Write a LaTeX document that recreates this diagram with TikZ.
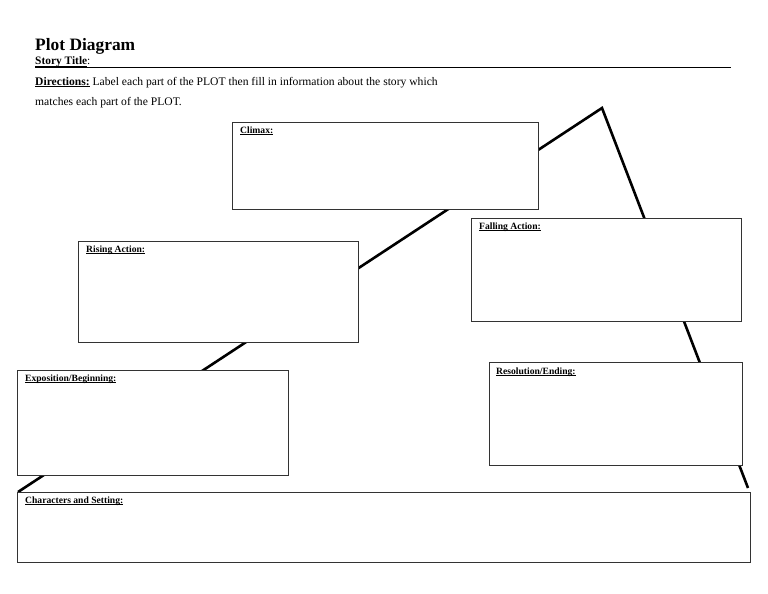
\documentclass[tikz,border=0pt]{standalone}
\usepackage{fontspec}
\setmainfont{Liberation Serif}
\usetikzlibrary{calc}
\newcommand\myul[1]{\setbox0\hbox{#1}\rlap{\rule[-1.4pt]{\wd0}{0.6pt}}\box0}
\tikzset{
  box/.style={draw=black!80, line width=0.9pt, fill=white, anchor=north west, inner sep=0pt},
  lbl/.style={anchor=base west, inner sep=0pt, font=\fontsize{9.6}{10}\selectfont\bfseries},
  plotline/.style={line width=2.6pt, black},
  head/.style={anchor=base west, inner sep=0pt}
}
\begin{document}
\begin{tikzpicture}[x=1pt,y=-1pt]
\useasboundingbox[fill=white] (0,0) rectangle (768,594);
% header
\node[head, font=\fontsize{17.4}{18}\selectfont\bfseries] (title) at (35,51) {Plot Diagram};
\node[head, font=\fontsize{11.4}{12}\selectfont] (story) at (35,65) {\textbf{\myul{Story Title}}:};
\coordinate (ruleL) at (35,67.5);
\coordinate (ruleR) at (731,67.5);
\draw[line width=0.8pt] (ruleL) -- (ruleR);
\node[head, font=\fontsize{11.6}{12}\selectfont] (dir1) at (35,85) {\textbf{\myul{Directions:}} Label each part of the PLOT then fill in information about the story which};
\node[head, font=\fontsize{11.6}{12}\selectfont] (dir2) at (35,105) {matches each part of the PLOT.};
% plot line
\coordinate (start) at (18,492);
\coordinate (peak) at (602,108);
\coordinate (end) at (748,488);
\draw[plotline, line join=miter] (start) -- (peak) -- (end);
% boxes
\node[box, minimum width=306pt, minimum height=87pt] (climax) at (232,122) {};
\node[box, minimum width=280pt, minimum height=101pt] (rising) at (78,241) {};
\node[box, minimum width=270pt, minimum height=103pt] (falling) at (471,218) {};
\node[box, minimum width=271pt, minimum height=105pt] (expo) at (17,370) {};
\node[box, minimum width=253pt, minimum height=103pt] (resol) at (489,362) {};
\node[box, minimum width=733pt, minimum height=70pt] (chars) at (17,492) {};
% labels
\node[lbl] (climaxL) at ($(climax.north west)+(8,11.5)$) {\myul{Climax:}};
\node[lbl] (risingL) at ($(rising.north west)+(8,11.5)$) {\myul{Rising Action:}};
\node[lbl] (fallingL) at ($(falling.north west)+(8,11.5)$) {\myul{Falling Action:}};
\node[lbl] (expoL) at ($(expo.north west)+(8,11.5)$) {\myul{Exposition/Beginning:}};
\node[lbl] (resolL) at ($(resol.north west)+(7,12.5)$) {\myul{Resolution/Ending:}};
\node[lbl] (charsL) at ($(chars.north west)+(8,11.5)$) {\myul{Characters and Setting:}};
\end{tikzpicture}
\end{document}
